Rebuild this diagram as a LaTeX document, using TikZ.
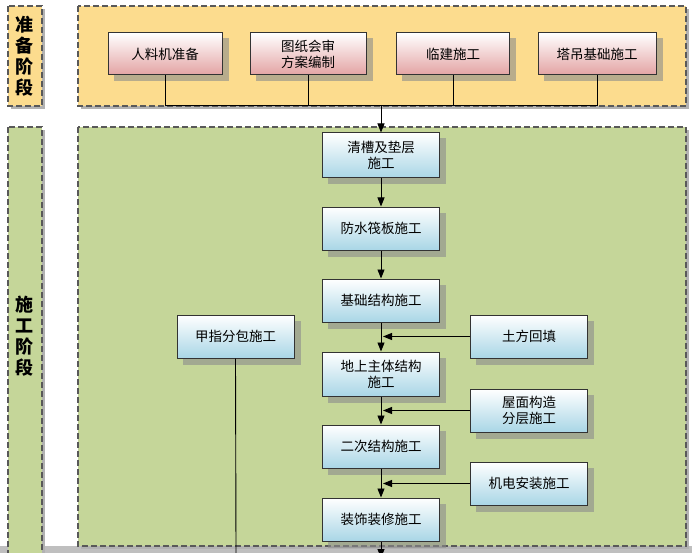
\documentclass[tikz,border=0pt]{standalone}
\usepackage{fontspec}
\setmainfont{Noto Sans CJK SC}
\usetikzlibrary{arrows.meta}
\definecolor{prepbg}{HTML}{FCDC8E}
\definecolor{conbg}{HTML}{C5D699}
\definecolor{pinkb}{HTML}{E3A3A3}
\definecolor{blueb}{HTML}{A9D6E6}
\pgfdeclarelayer{zonelayer}
\pgfdeclarelayer{shadowlayer}
\pgfsetlayers{zonelayer,shadowlayer,main}
\begin{document}
\begin{tikzpicture}[x=1pt,y=-1pt,
 zone/.style={draw=black!65,line width=1.6pt,dash pattern=on 6pt off 3pt},
 zshd/.style={fill=black!30},
 pbox/.style={draw=black!80,line width=1pt,top color=white,bottom color=pinkb,minimum height=42pt,align=center,font=\fontsize{13.5}{16}\selectfont,inner sep=0pt},
 bbox/.style={draw=black!80,line width=1pt,top color=white,bottom color=blueb,minimum width=117pt,minimum height=43pt,align=center,font=\fontsize{13.5}{16}\selectfont,inner sep=0pt},
 shdw/.style={fill=black!45,opacity=0.6},
 ln/.style={line width=0.9pt,black},
 ar/.style={ln,-{Triangle[width=7pt,length=9pt]}}]
\useasboundingbox (0,0) rectangle (692,553);
\begin{pgfonlayer}{zonelayer}
\fill[white] (0,0) rectangle (692,553);
\fill[black!25] (0,546) rectangle (692,553);
\fill[zshd] (11,9) rectangle (45,109);
\fill[zshd] (81,9) rectangle (689,109);
\fill[zshd] (11,130) rectangle (45,560);
\fill[zshd] (81,130) rectangle (689,549);
\draw[zone,fill=prepbg] (8,6) rectangle (42,106);
\draw[zone,fill=prepbg] (78,6) rectangle (686,106);
\draw[zone,fill=conbg] (8,127) rectangle (42,560);
\draw[zone,fill=conbg] (78,127) rectangle (686,546);
\end{pgfonlayer}
\node[font=\fontsize{18}{21}\selectfont\bfseries,align=center] (t1) at (25,56) {准\\备\\阶\\段};
\node[font=\fontsize{18}{21}\selectfont\bfseries,align=center] (t2) at (25,336) {施\\工\\阶\\段};
\node[pbox,minimum width=114pt] (p1) at (165,54) {人料机准备};
\node[pbox,minimum width=116pt] (p2) at (308,54) {图纸会审\\方案编制};
\node[pbox,minimum width=113pt] (p3) at (453,54) {临建施工};
\node[pbox,minimum width=118pt] (p4) at (597,54) {塔吊基础施工};
\node[bbox,minimum height=45pt] (c1) at (381,155.5) {清槽及垫层\\施工};
\node[bbox] (c2) at (381,228.5) {防水筏板施工};
\node[bbox] (c3) at (381,300.5) {基础结构施工};
\node[bbox,minimum height=44pt] (c4) at (381,374) {地上主体结构\\施工};
\node[bbox] (c5) at (381,446.5) {二次结构施工};
\node[bbox] (c6) at (381,519.5) {装饰装修施工};
\node[bbox] (r1) at (529,336.5) {土方回填};
\node[bbox] (r2) at (529,410.5) {屋面构造\\分层施工};
\node[bbox] (r3) at (529,483.5) {机电安装施工};
\node[bbox] (g) at (235.5,336.5) {甲指分包施工};
\begin{pgfonlayer}{shadowlayer}
\foreach \n in {p1,p2,p3,p4,c1,c2,c3,c4,c5,c6,r1,r2,r3,g}
  \fill[shdw] ([shift={(6,6)}]\n.north west) rectangle ([shift={(6,6)}]\n.south east);
\end{pgfonlayer}
\coordinate (j1) at (165,105); \coordinate (j4) at (597,105); \coordinate (jc) at (381,105);
\draw[ln] (p1.south) -- (j1) -- (j4) -- (p4.south);
\draw[ln] (p2.south) -- (p2.south|-j1);
\draw[ln] (p3.south) -- (p3.south|-j1);
\draw[ar] (jc) -- (c1.north);
\draw[ar] (c1) -- (c2);
\draw[ar] (c2) -- (c3);
\draw[ar] (c3) -- (c4);
\draw[ar] (c4) -- (c5);
\draw[ar] (c5) -- (c6);
\coordinate (e1) at (383,336.5); \coordinate (e2) at (383,410.5); \coordinate (e3) at (383,483.5);
\draw[ar] (r1.west) -- (e1);
\draw[ar] (r2.west) -- (e2);
\draw[ar] (r3.west) -- (e3);
\coordinate (gb) at (236,553); \coordinate (cb) at (381,558);
\draw[ln] (g.south) -- (gb);
\draw[ar] (c6.south) -- (cb);
\end{tikzpicture}
\end{document}
